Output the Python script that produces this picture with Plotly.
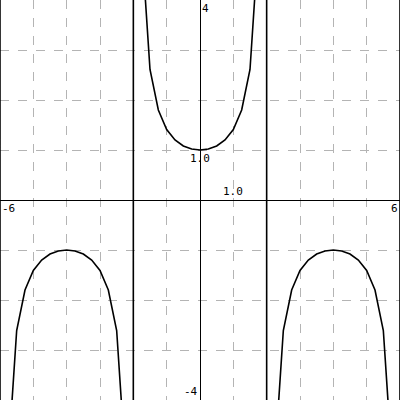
import plotly.graph_objects as go

# offsets from the centre of each arch, and |y|
offsets = [-1.99, -1.9, -1.75, -1.5, -1.25, -1.0, -0.75, -0.5, -0.25, 0.0,
           0.25, 0.5, 0.75, 1.0, 1.25, 1.5, 1.75, 1.9, 1.99]
magnitude = [127.0, 12.7, 5.13, 2.61, 1.80, 1.41, 1.20, 1.08, 1.02, 1.0,
             1.02, 1.08, 1.20, 1.41, 1.80, 2.61, 5.13, 12.7, 127.0]
arch_centres = [-4, 0, 4]
arch_signs = [-1, 1, -1]

# one continuous polyline, so the plotter's jumps across the asymptotes show
xs = [-6.01]
ys = [127.0]
for c, s in zip(arch_centres, arch_signs):
    xs += [c + d for d in offsets]
    ys += [s * m for m in magnitude]
xs.append(6.01)
ys.append(127.0)

fig = go.Figure(go.Scatter(x=xs, y=ys, mode="lines",
                           line=dict(color="black", width=1.6),
                           showlegend=False, hoverinfo="skip"))

axis_style = dict(dtick=1, showgrid=True, gridcolor="#b4b4b4", griddash="dash",
                  zeroline=True, zerolinecolor="black", zerolinewidth=1,
                  showticklabels=False, showline=False)
fig.update_xaxes(range=[-6, 6], **axis_style)
fig.update_yaxes(range=[-4, 4], **axis_style)

f = dict(family="DejaVu Sans Mono", size=11, color="black")
labels = [(-6, 0, "-6", "left", "top"), (6, 0, "6", "right", "top"),
          (0, 4, "4", "left", "top"), (0, -4, "-4", "right", "bottom"),
          (1, 0, "1.0", "center", "bottom"), (0, 1, "1.0", "center", "top")]
for x, y, t, xa, ya in labels:
    fig.add_annotation(x=x, y=y, text=t, showarrow=False, xanchor=xa,
                       yanchor=ya, font=f)

fig.update_layout(width=400, height=400, margin=dict(l=0, r=0, t=0, b=0),
                  plot_bgcolor="white", paper_bgcolor="white")
fig.write_html("out.html", config={"displayModeBar": False},
               post_script="document.body.style.margin='0';")
